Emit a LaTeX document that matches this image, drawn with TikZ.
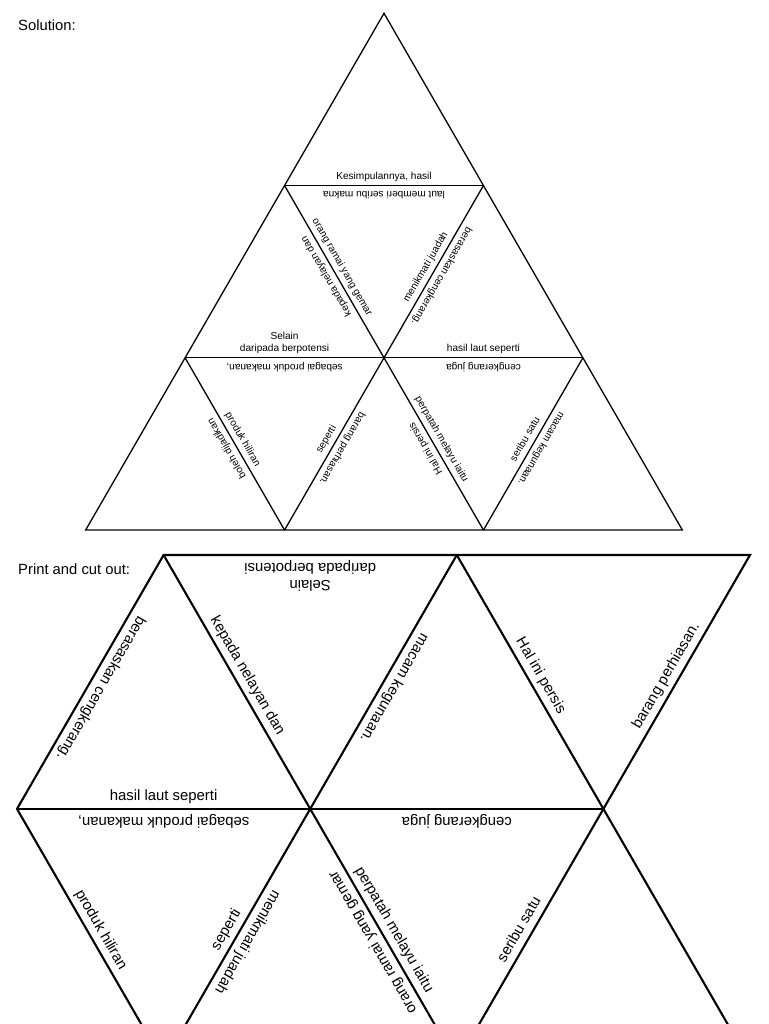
\documentclass[tikz,border=0pt]{standalone}
\usepackage{fontspec}
\setmainfont{Liberation Sans}
\usetikzlibrary{calc}

\begin{document}
\begin{tikzpicture}[x=1pt, y=1pt, line join=miter,
  solline/.style={line width=1.3pt},
  cutline/.style={line width=2.1pt},
  soltext/.style={font=\fontsize{10.1}{11.6}\selectfont, anchor=south, inner sep=3.9pt, text depth=0.22em, align=center},
  cuttext/.style={font=\fontsize{14.9}{17.1}\selectfont, anchor=south, inner sep=5.8pt, text depth=0.22em, align=center},
  heading/.style={font=\fontsize{14.8}{17}\selectfont, anchor=base west, inner sep=0pt}]
  \useasboundingbox[fill=white] (0,0) rectangle (768,-1024);
  \clip (0,0) rectangle (768,-1024);

  \coordinate (a)  at (384,-13.3);
  \coordinate (b1) at (284.55,-185.55);
  \coordinate (b2) at (483.45,-185.55);
  \coordinate (c1) at (185.1,-357.8);
  \coordinate (c2) at (384,-357.8);
  \coordinate (c3) at (582.9,-357.8);
  \coordinate (d1) at (85.65,-530.05);
  \coordinate (d2) at (284.55,-530.05);
  \coordinate (d3) at (483.45,-530.05);
  \coordinate (d4) at (682.35,-530.05);

  \coordinate (p1) at (163.6,-555);
  \coordinate (p2) at (456.8,-555);
  \coordinate (p3) at (750,-555);
  \coordinate (q1) at (17,-808.9);
  \coordinate (q2) at (310.2,-808.9);
  \coordinate (q3) at (603.4,-808.9);
  \coordinate (r1) at (163.6,-1062.8);
  \coordinate (r2) at (456.8,-1062.8);
  \coordinate (r3) at (750,-1062.8);

  \node[heading] (solution) at (18,-31) {Solution:};
  \node[heading] (printcut) at (18,-574) {Print and cut out:};

  \draw[solline] (a) -- (d1) -- (d4) -- cycle;
  \draw[solline] (b1) -- (b2);
  \draw[solline] (c1) -- (c3);
  \draw[solline] (b1) -- (d3);
  \draw[solline] (b2) -- (d2);
  \draw[solline] (c1) -- (d2);
  \draw[solline] (c3) -- (d3);

  \node[soltext] (kes) at ($(b1)!0.5!(b2)$) {Kesimpulannya, hasil};
  \node[soltext, rotate=180] (laut) at ($(b1)!0.5!(b2)$) {laut memberi seribu makna};
  \node[soltext, rotate=120] (kepada) at ($(b1)!0.5!(c2)$) {kepada nelayan dan};
  \node[soltext, rotate=-60] (orang) at ($(b1)!0.5!(c2)$) {orang ramai yang gemar};
  \node[soltext, rotate=60] (menikmati) at ($(b2)!0.5!(c2)$) {menikmati juadah};
  \node[soltext, rotate=-120] (berasas) at ($(b2)!0.5!(c2)$) {berasaskan cengkerang.};
  \node[soltext] (selain) at ($(c1)!0.5!(c2)$) {Selain\\daripada berpotensi};
  \node[soltext, rotate=180] (sebagai) at ($(c1)!0.5!(c2)$) {sebagai produk makanan,};
  \node[soltext] (hasil) at ($(c2)!0.5!(c3)$) {hasil laut seperti};
  \node[soltext, rotate=180] (cengkerang) at ($(c2)!0.5!(c3)$) {cengkerang juga};
  \node[soltext, rotate=120] (boleh) at ($(c1)!0.5!(d2)$) {boleh dijadikan};
  \node[soltext, rotate=-60] (produk) at ($(c1)!0.5!(d2)$) {produk hiliran};
  \node[soltext, rotate=60] (seperti) at ($(c2)!0.5!(d2)$) {seperti};
  \node[soltext, rotate=-120] (barang) at ($(c2)!0.5!(d2)$) {barang perhiasan.};
  \node[soltext, rotate=120] (hal) at ($(c2)!0.5!(d3)$) {Hal ini persis};
  \node[soltext, rotate=-60] (perpatah) at ($(c2)!0.5!(d3)$) {perpatah melayu iaitu};
  \node[soltext, rotate=60] (seribu) at ($(c3)!0.5!(d3)$) {seribu satu};
  \node[soltext, rotate=-120] (macam) at ($(c3)!0.5!(d3)$) {macam kegunaan.};

  \draw[cutline] (r1) -- (q1) -- (p1) -- (p3) -- (r2);
  \draw[cutline] (q1) -- (q3);
  \draw[cutline] (p1) -- (r2);
  \draw[cutline] (p2) -- (r1);
  \draw[cutline] (p2) -- (r3);

  \node[cuttext, rotate=180] (pselain) at ($(p1)!0.5!(p2)$) {Selain\\daripada berpotensi};
  \node[cuttext, rotate=-120] (pberasas) at ($(p1)!0.5!(q1)$) {berasaskan cengkerang.};
  \node[cuttext, rotate=-60] (pkepada) at ($(p1)!0.5!(q2)$) {kepada nelayan dan};
  \node[cuttext] (phasil) at ($(q1)!0.5!(q2)$) {hasil laut seperti};
  \node[cuttext, rotate=-120] (pmacam) at ($(p2)!0.5!(q2)$) {macam kegunaan.};
  \node[cuttext, rotate=-60] (phal) at ($(p2)!0.5!(q3)$) {Hal ini persis};
  \node[cuttext, rotate=60] (pbarang) at ($(p3)!0.5!(q3)$) {barang perhiasan.};
  \node[cuttext, rotate=180] (psebagai) at ($(q1)!0.5!(q2)$) {sebagai produk makanan,};
  \node[cuttext, rotate=180] (pcengkerang) at ($(q2)!0.5!(q3)$) {cengkerang juga};
  \node[cuttext, rotate=-60] (pproduk) at ($(q1)!0.5!(r1)$) {produk hiliran};
  \node[cuttext, rotate=60] (pseperti) at ($(q2)!0.5!(r1)$) {seperti};
  \node[cuttext, rotate=-120] (pmenikmati) at ($(q2)!0.5!(r1)$) {menikmati juadah};
  \node[cuttext, rotate=120] (porang) at ($(q2)!0.5!(r2)$) {orang ramai yang gemar};
  \node[cuttext, rotate=-60] (pperpatah) at ($(q2)!0.5!(r2)$) {perpatah melayu iaitu};
  \node[cuttext, rotate=60] (pseribu) at ($(q3)!0.5!(r2)$) {seribu satu};
\end{tikzpicture}
\end{document}
